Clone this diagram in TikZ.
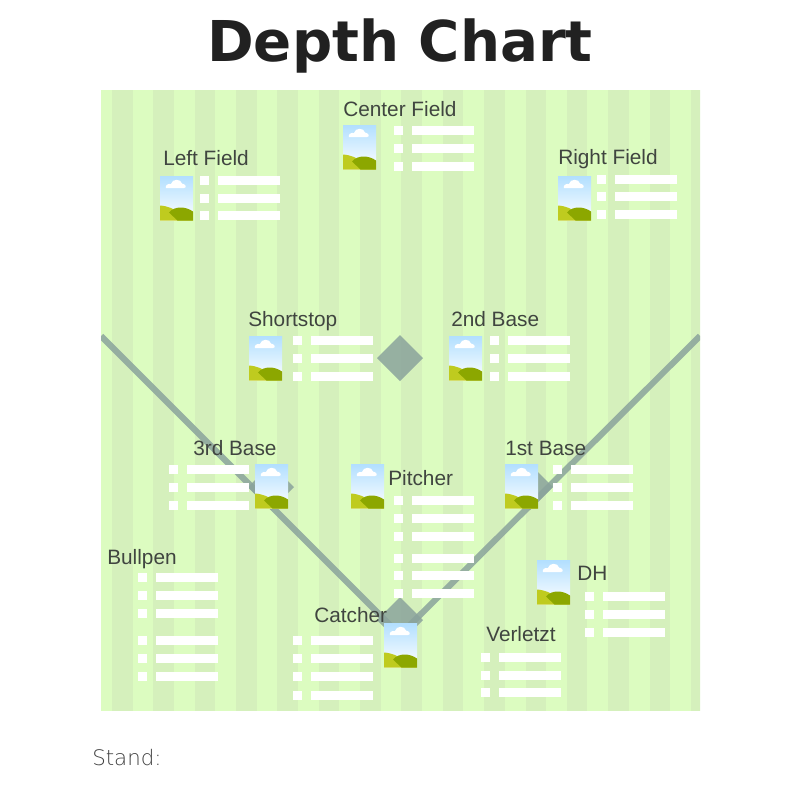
\documentclass[tikz,border=0pt]{standalone}
\usepackage{fontspec}
\setmainfont{Liberation Sans}
\newfontfamily\titlefont{DejaVu Sans}
\newfontfamily\standfont{DejaVu Sans ExtraLight}
\definecolor{fieldlight}{HTML}{DCFCC0}
\definecolor{fielddark}{HTML}{D5F0BC}
\definecolor{linegrey}{HTML}{8AA39C}
\definecolor{labeltext}{HTML}{404540}
\definecolor{sky}{HTML}{B2DFFF}
\definecolor{hillpale}{HTML}{BFCB1F}
\definecolor{hilldark}{HTML}{8CA700}
\tikzset{
  x=0.75pt,y=-0.75pt,
  fieldtext/.style={inner sep=0pt,anchor=base west,text=labeltext,font=\fontsize{15.6}{18}\selectfont},
  baseline path/.style={draw=linegrey,opacity=.85,line width=4.6pt,line cap=butt},
  basemark/.style={fill=linegrey,opacity=.85},
  listbar/.style={fill=white},
  thumbnail/.pic={
    \shade[top color=sky,bottom color=white] (0,0) rectangle (33,44.5);
    \fill[white] (6,12) .. controls (5,9) and (8,7.5) .. (11,8) .. controls (12,2.5) and (21,2.5) .. (22,7.5) .. controls (26,8) and (27,12) .. (24,12) -- cycle;
    \fill[hillpale] (0,29.5) .. controls (8,30) and (14,33) .. (20,37) -- (33,44.5) -- (0,44.5) -- cycle;
    \fill[hilldark] (9,36.5) .. controls (15,29.5) and (26,30.5) .. (33,35.5) -- (33,44.5) -- (17.5,44.5) -- cycle;
  }
}
\newcommand{\rosterrows}[2]{%
  \foreach \rowy in {#2}{
    \fill[listbar] (#1,\rowy-4.5) rectangle ++(9,9);
    \fill[listbar] (#1+18,\rowy-4.5) rectangle ++(62.3,9);
  }}
\begin{document}
\begin{tikzpicture}
\useasboundingbox (0,0) rectangle (800,800);
\fill[white] (0,0) rectangle (800,800);
\fill[fieldlight] (101,90) rectangle (700,711);
\begin{scope}
\clip (101,90) rectangle (700,711);
\foreach \i in {0,...,14}{
  \fill[fielddark] ({112+41.35*\i},90) rectangle ({132.5+41.35*\i},711);
}
\coordinate (leftfoul) at (101,336);
\coordinate (rightfoul) at (700,336);
\coordinate (home) at (400,635);
\draw[baseline path] (leftfoul) -- (home) -- (rightfoul);
\end{scope}
\foreach \cx/\cy in {400/358,271/487,530/487,400/620}{
  \fill[basemark] (\cx-23,\cy) -- (\cx,\cy-23) -- (\cx+23,\cy) -- (\cx,\cy+23) -- cycle;
}
\foreach \tx/\ty in {343/125,160/176,558/176,249/336,449/336,255/464,351/464,505/464,537/560,384/623}{
  \pic at (\tx,\ty) {thumbnail};
}
\rosterrows{394}{130,148,166}
\rosterrows{200}{180,198,215}
\rosterrows{597}{179,196,214}
\rosterrows{293}{340,358,376}
\rosterrows{490}{340,358,376}
\rosterrows{169}{469,487,505}
\rosterrows{394}{500,518,536,558,575,593}
\rosterrows{553}{469,487,505}
\rosterrows{138}{577,595,613,640,658,676}
\rosterrows{293}{640,658,676,695}
\rosterrows{481}{657,675,692}
\rosterrows{585}{596,614,632}
\node (title) at (400,61) [inner sep=0pt,anchor=base,text=black!87,font=\titlefont\bfseries\fontsize{42.2}{46}\selectfont] {Depth Chart};
\node (cf) at (343,116) [fieldtext] {Center Field};
\node (lf) at (163,165) [fieldtext] {Left Field};
\node (rf) at (558,164) [fieldtext] {Right Field};
\node (ss) at (248,326) [fieldtext] {Shortstop};
\node (sb) at (451,326) [fieldtext] {2nd Base};
\node (tb) at (193,455) [fieldtext] {3rd Base};
\node (pi) at (388,485) [fieldtext] {Pitcher};
\node (fb) at (505,455) [fieldtext] {1st Base};
\node (bp) at (107,564) [fieldtext] {Bullpen};
\node (ca) at (314,622) [fieldtext] {Catcher};
\node (ve) at (486,641) [fieldtext] {Verletzt};
\node (dh) at (577,580) [fieldtext] {DH};
\node (stand) at (92,765) [inner sep=0pt,anchor=base west,text=black!75,font=\standfont\fontsize{16}{18}\selectfont] {Stand:};
\end{tikzpicture}
\end{document}
